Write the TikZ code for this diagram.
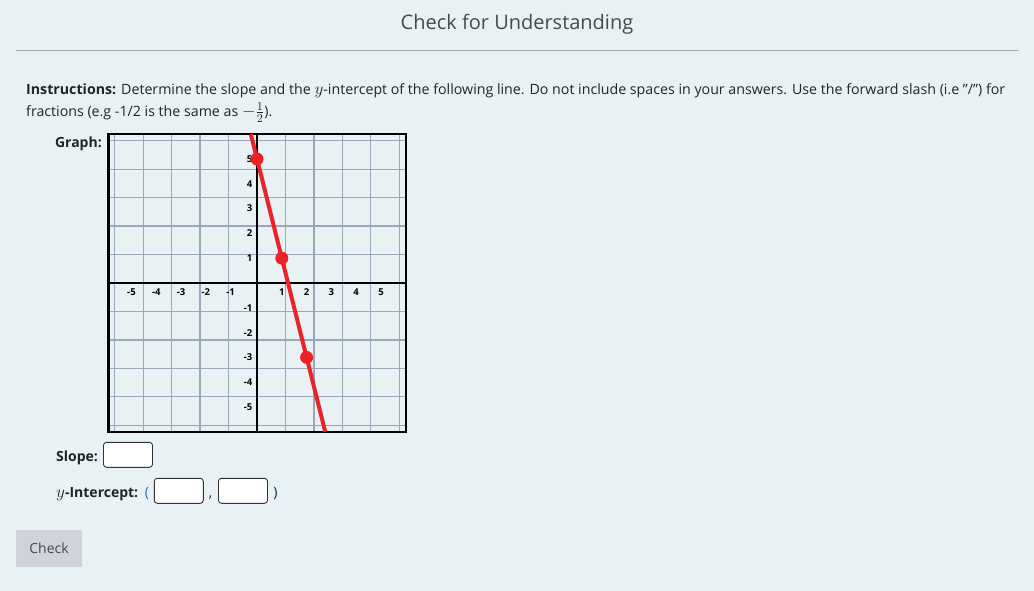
\documentclass[tikz,border=0pt]{standalone}
\usepackage{fontspec}
\setmainfont{Open Sans}
\setsansfont{Open Sans}
\definecolor{bg}{RGB}{232,242,245}
\definecolor{rulegray}{RGB}{170,174,176}
\definecolor{gridc}{RGB}{156,166,186}
\definecolor{redl}{RGB}{236,34,38}
\definecolor{txt}{RGB}{33,37,41}
\definecolor{titlec}{RGB}{70,74,78}
\definecolor{btn}{RGB}{208,212,218}
\definecolor{paren}{RGB}{40,110,190}
\newcommand{\my}{\scalebox{1.2}{$y$}}
\tikzset{
  body/.style={inner sep=0, text=txt, font=\fontsize{14.2}{17}\selectfont},
  boldlbl/.style={inner sep=0, text=txt, font=\bfseries\fontsize{14}{17}\selectfont},
  ticklbl/.style={inner sep=0, text=black, font=\bfseries\fontsize{9.5}{11}\selectfont},
  inputbox/.style={draw=black!80, fill=white, rounded corners=3pt, line width=0.9pt, minimum width=49pt, minimum height=25pt, inner sep=0},
  redline/.style={draw=redl, line width=4pt},
  dot/.style={circle, fill=redl, minimum size=13pt, inner sep=0},
  button/.style={fill=btn, minimum width=66pt, minimum height=37pt, inner sep=0, text=titlec, font=\fontsize{14}{17}\selectfont}
}
\begin{document}
\begin{tikzpicture}[x=1pt,y=-1pt]
\useasboundingbox (0,0) rectangle (1034,591);
\fill[bg] (0,0) rectangle (1034,591);
\node[anchor=base, inner sep=0, text=titlec, font=\fontsize{20}{24}\selectfont] (title) at (517,29.5) {Check for Understanding};
\draw[rulegray, line width=1pt] (16,51) -- (1019,51);
\node[body, anchor=base west] (ins1) at (26,95) {\textbf{Instructions:} Determine the slope and the \my-intercept of the following line. Do not include spaces in your answers. Use the forward slash (i.e "/") for};
\node[body, anchor=base west] (ins2) at (26,117) {fractions (e.g -1/2 is the same as \scalebox{1.2}{$-\frac{1}{2}$}).};
\node[boldlbl, anchor=base east] (graphlbl) at (102,148) {Graph:};
\begin{scope}[shift={(257,283)},x=24.8pt,y=24.8pt]
  \draw[gridc, line width=1.3pt] (-6,-6) grid (6,6);
  \draw[black, line width=2.6pt] (-6,0) -- (6,0) (0,-6) -- (0,6);
  \draw[black, line width=2.6pt] (-6,-6) rectangle (6,6);
  \foreach \i in {-5,...,-1} {
    \pgfmathtruncatemacro{\a}{-\i}
    \node[ticklbl] (xl\a n) at (\i,-0.37) {\llap{-}\a};
    \node[ticklbl, anchor=east] (yl\a n) at (-0.18,\i) {-\a};
  }
  \foreach \i in {1,...,5} {
    \node[ticklbl] (xl\i) at (\i,-0.37) {\i};
    \node[ticklbl, anchor=east] (yl\i) at (-0.18,\i) {\i};
  }
  \coordinate (ltop) at (-0.25,6);
  \coordinate (lbot) at (2.75,-6);
  \draw[redline] (ltop) -- (lbot);
  \node[dot] (p1) at (0,5) {};
  \node[dot] (p2) at (1,1) {};
  \node[dot] (p3) at (2,-3) {};
\end{scope}
\node[boldlbl, anchor=base west] (slopelbl) at (56,461) {Slope:};
\node[inputbox] (slopebox) at (128,454.8) {};
\node[boldlbl, anchor=base west] (ylbl) at (56,497) {\my-Intercept:};
\node[body, anchor=base, text=paren] (lp) at (147,497) {(};
\node[inputbox] (xbox) at (178.8,490.8) {};
\node[body, anchor=base] (comma) at (210.5,497) {,};
\node[inputbox] (ybox) at (243,490.8) {};
\node[body, anchor=base, text=paren!40!black] (rp) at (275.5,497) {)};
\node[button] (check) at (49,548.3) {Check};
\end{tikzpicture}
\end{document}
